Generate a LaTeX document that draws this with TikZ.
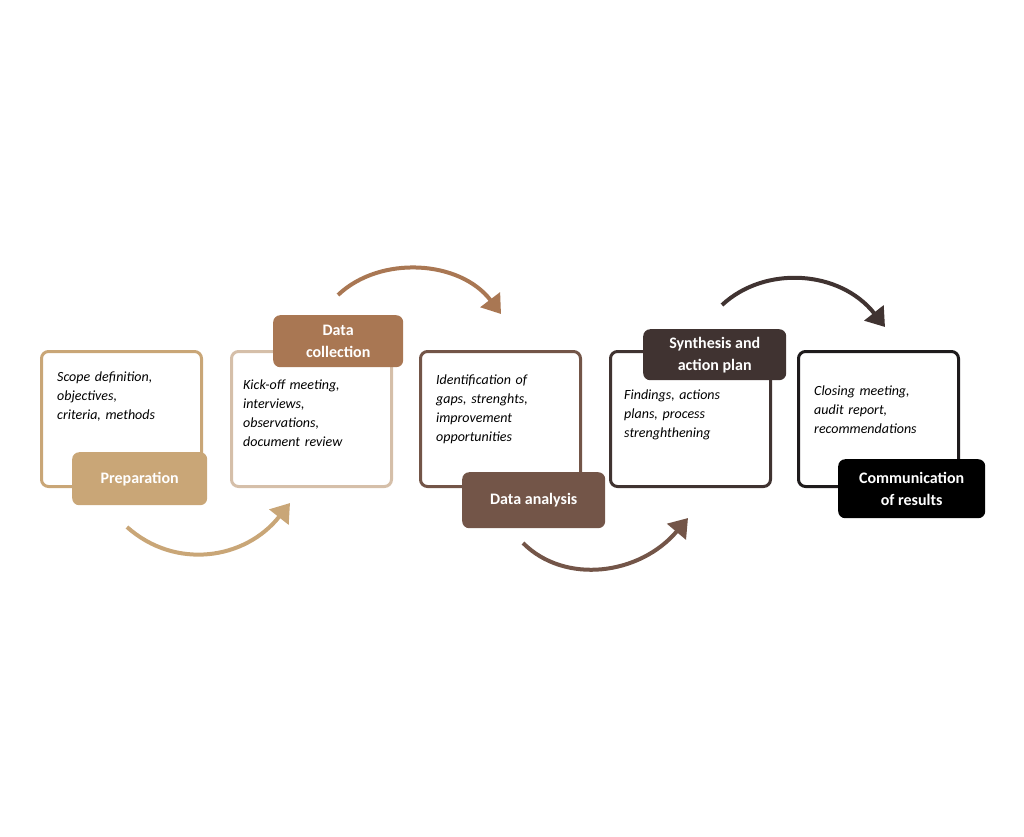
\documentclass[tikz,border=0pt]{standalone}
\usepackage{fontspec}
\setmainfont{Carlito}
\usetikzlibrary{arrows.meta}
\definecolor{cA}{HTML}{C9A677}
\definecolor{cAb}{HTML}{D5BFA9}
\definecolor{cB}{HTML}{A97753}
\definecolor{cC}{HTML}{735548}
\definecolor{cD}{HTML}{403331}
\definecolor{cE}{HTML}{1E1B1C}
\tikzset{
 stage/.style={draw=#1, line width=3pt, rounded corners=7pt, minimum width=160pt, minimum height=135pt, anchor=north west},
 desc/.style={anchor=north west, align=left, font=\fontsize{14}{19}\selectfont\itshape, text width=140pt, inner sep=0pt},
 tag/.style={fill=#1, rounded corners=7pt, text=white, font=\fontsize{16}{22}\selectfont\bfseries, align=center, anchor=north west, inner sep=0pt},
 flow/.style={draw=#1, line width=4pt, -{Triangle[length=18pt,width=24pt]}}
}
\begin{document}
\begin{tikzpicture}[x=1pt,y=-1pt]
\useasboundingbox (0,0) rectangle (1024,836);
\node[stage=cA] (b1) at (40,350) {};
\node[stage=cAb] (b2) at (230,350) {};
\node[stage=cC] (b3) at (419,350) {};
\node[stage=cD] (b4) at (609,350) {};
\node[stage=cE] (b5) at (797,350) {};
\node[desc] (t1) at (57,372) {Scope definition,\\objectives,\\criteria, methods};
\node[desc] (t2) at (243,380) {Kick-off meeting,\\interviews,\\observations,\\document review};
\node[desc] (t3) at (436,375) {Identification of\\gaps, strenghts,\\improvement\\opportunities};
\node[desc] (t4) at (624,390) {Findings, actions\\plans, process\\strenghthening};
\node[desc] (t5) at (814,386) {Closing meeting,\\audit report,\\recommendations};
\node[tag=cA, minimum width=135pt, minimum height=53pt] (l1) at (72,452) {Preparation};
\node[tag=cB, minimum width=130pt, minimum height=52pt] (l2) at (273,315) {Data\\collection};
\node[tag=cC, minimum width=143pt, minimum height=56pt] (l3) at (462,472) {Data analysis};
\node[tag=cD, minimum width=143pt, minimum height=51pt] (l4) at (643,329) {Synthesis and\\action plan};
\node[tag=black, minimum width=147pt, minimum height=59pt] (l5) at (838,459) {Communication\\of results};
\coordinate (a1s) at (127,527); \coordinate (a1e) at (290,503);
\coordinate (a2s) at (338,295); \coordinate (a2e) at (501,314);
\coordinate (a3s) at (523,543); \coordinate (a3e) at (688,518);
\coordinate (a4s) at (722,305); \coordinate (a4e) at (885,327);
\draw[flow=cA] (a1s) .. controls (175,570) and (245,560) .. (a1e);
\draw[flow=cB] (a2s) .. controls (380,255) and (460,260) .. (a2e);
\draw[flow=cC] (a3s) .. controls (565,585) and (640,575) .. (a3e);
\draw[flow=cD] (a4s) .. controls (765,265) and (840,270) .. (a4e);
\end{tikzpicture}
\end{document}
